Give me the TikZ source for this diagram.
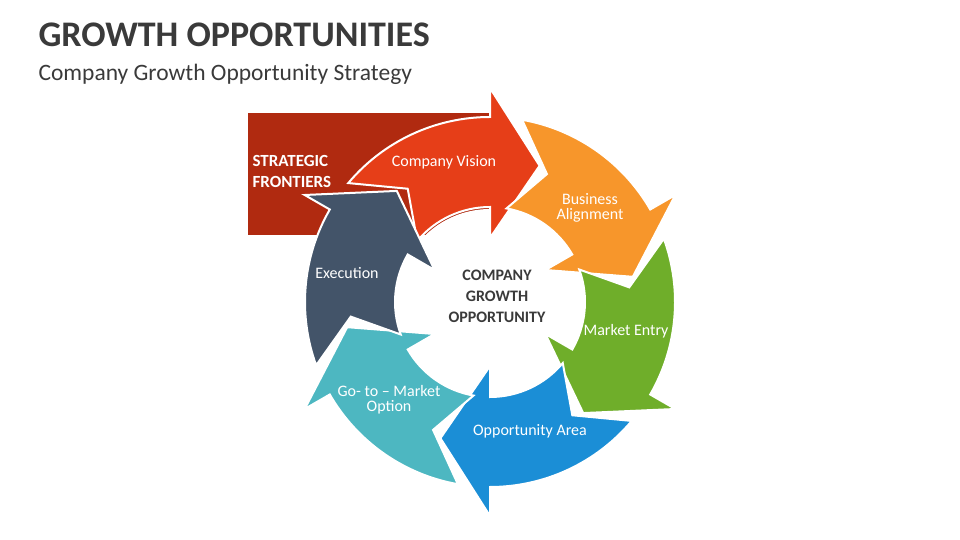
\documentclass[tikz,border=0pt]{standalone}
\usepackage{fontspec}
\setmainfont{Carlito}
\begin{document}
\begin{tikzpicture}[x=1pt,y=1pt,
  lbl/.style={text=white,font=\fontsize{16}{15}\selectfont,align=center},
  seg/.style={draw=white,line width=2pt,line join=miter}]
\definecolor{cv}{HTML}{E63E18}\definecolor{ba}{HTML}{F7962B}
\definecolor{me}{HTML}{6FAE2A}\definecolor{oa}{HTML}{1B8ED6}
\definecolor{gm}{HTML}{4DB7C1}\definecolor{ex}{HTML}{435469}
\definecolor{sf}{HTML}{B02A10}\definecolor{tt}{HTML}{3A3A3A}
\useasboundingbox (0,0) rectangle (960,540);
\node[anchor=west,text=tt,font=\fontsize{36}{38}\selectfont\bfseries] (title) at (35,505) {GROWTH OPPORTUNITIES};
\node[anchor=west,text=tt,font=\fontsize{23.5}{25}\selectfont] (sub) at (35,466) {Company Growth Opportunity Strategy};
\fill[sf] (248,305) rectangle (492,427);
\begin{scope}[shift={(490,238)}]
\fill[white] (0,0) circle (93pt);
\foreach \B/\c in {90/cv,30/ba,-30/me,-90/oa,-150/gm,150/ex}{
  \pgfmathsetmacro{\A}{\B+50}
  \pgfmathsetmacro{\T}{\B-20}
  \pgfmathsetmacro{\N}{\B+36}
  \path[seg,fill=\c] (\A:185pt) arc[start angle=\A,end angle=\B,radius=185pt]
    -- (\B:214pt) -- (\T:145pt) -- (\B:64pt) -- (\B:95pt)
    arc[start angle=\B,end angle=\A,radius=95pt] -- (\N:140pt) -- cycle;
}
\end{scope}
\node[lbl] (l1) at (444,378) {Company Vision};
\node[lbl] (l2) at (590,332) {Business\\Alignment};
\node[lbl] (l3) at (626,209) {Market Entry};
\node[lbl] (l4) at (530,109) {Opportunity Area};
\node[lbl] (l5) at (389,140) {Go- to -- Market\\Option};
\node[lbl] (l6) at (347,267) {Execution};
\node[text=tt,align=center,font=\fontsize{16}{21}\selectfont\bfseries] (ctr) at (497,244) {COMPANY\\GROWTH\\OPPORTUNITY};
\node[anchor=west,text=white,align=left,font=\fontsize{17}{21}\selectfont\bfseries] (sfl) at (249,369) {STRATEGIC\\FRONTIERS};
\end{tikzpicture}
\end{document}
